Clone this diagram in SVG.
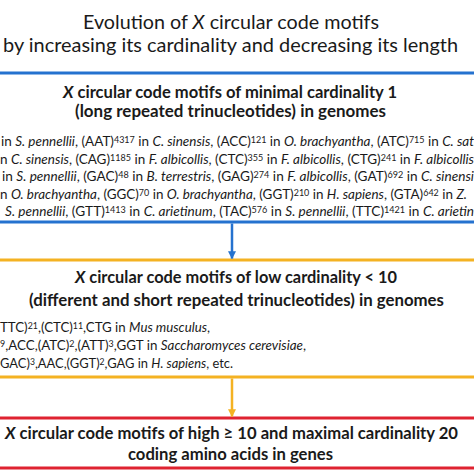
<svg xmlns="http://www.w3.org/2000/svg" width="474" height="474" viewBox="0 0 474 474">
<defs>
<style>
.t{font-family:Lato,"Open Sans","Liberation Sans",sans-serif;fill:#1a1a1a}
.h{font-size:20px}
.b{font-size:17px;font-weight:bold}
.r{font-size:13.5px}
.i{font-style:italic}
.s{font-size:9px;baseline-shift:33%}
.blue{stroke:#2572cf;stroke-width:3;fill:none}
.yel{stroke:#f4b222;stroke-width:3;fill:none}
.red{stroke:#df2331;stroke-width:3;fill:none}
</style>
<marker id="ab" viewBox="0 0 10 10" refX="9" refY="5" markerWidth="8" markerHeight="8" markerUnits="userSpaceOnUse" orient="auto"><path d="M0,0L10,5L0,10z" fill="#2572cf"/></marker>
<marker id="ay" viewBox="0 0 10 10" refX="9" refY="5" markerWidth="8" markerHeight="8" markerUnits="userSpaceOnUse" orient="auto"><path d="M0,0L10,5L0,10z" fill="#f4b222"/></marker>
</defs>
<rect width="474" height="474" fill="#ffffff"/>
<g id="title">
<text class="t h" x="231" y="29" text-anchor="middle" textLength="296" lengthAdjust="spacingAndGlyphs">Evolution of <tspan class="i">X</tspan> circular code motifs</text>
<text class="t h" x="230.5" y="52" text-anchor="middle" textLength="455" lengthAdjust="spacingAndGlyphs">by increasing its cardinality and decreasing its length</text>
</g>
<g id="box1">
<line class="blue" x1="0" y1="73" x2="474" y2="73"/>
<line class="blue" x1="0" y1="222" x2="474" y2="222"/>
<text class="t b" x="230" y="98" text-anchor="middle" textLength="334" lengthAdjust="spacingAndGlyphs"><tspan class="i">X</tspan> circular code motifs of minimal cardinality 1</text>
<text class="t b" x="230.5" y="117" text-anchor="middle" textLength="311" lengthAdjust="spacingAndGlyphs">(long repeated trinucleotides) in genomes</text>
<text class="t r" x="1" y="146" textLength="473" lengthAdjust="spacingAndGlyphs">in <tspan class="i">S. pennellii</tspan>, (AAT)<tspan class="s">4317</tspan> in <tspan class="i">C. sinensis</tspan>, (ACC)<tspan class="s">121</tspan> in <tspan class="i">O. brachyantha</tspan>, (ATC)<tspan class="s">715</tspan> in <tspan class="i">C. sat</tspan></text>
<text class="t r" x="0" y="163.5" textLength="474" lengthAdjust="spacingAndGlyphs">n <tspan class="i">C. sinensis</tspan>, (CAG)<tspan class="s">1185</tspan> in <tspan class="i">F. albicollis</tspan>, (CTC)<tspan class="s">355</tspan> in <tspan class="i">F. albicollis</tspan>, (CTG)<tspan class="s">241</tspan> in <tspan class="i">F. albicollis</tspan></text>
<text class="t r" x="2" y="181" textLength="472" lengthAdjust="spacingAndGlyphs">in <tspan class="i">S. pennellii</tspan>, (GAC)<tspan class="s">48</tspan> in <tspan class="i">B. terrestris</tspan>, (GAG)<tspan class="s">274</tspan> in <tspan class="i">F. albicollis</tspan>, (GAT)<tspan class="s">692</tspan> in <tspan class="i">C. sinensi</tspan></text>
<text class="t r" x="0" y="198.5" textLength="467" lengthAdjust="spacingAndGlyphs">n <tspan class="i">O. brachyantha</tspan>, (GGC)<tspan class="s">70</tspan> in <tspan class="i">O. brachyantha</tspan>, (GGT)<tspan class="s">210</tspan> in <tspan class="i">H. sapiens</tspan>, (GTA)<tspan class="s">642</tspan> in <tspan class="i">Z.</tspan></text>
<text class="t r" x="5" y="216" textLength="469" lengthAdjust="spacingAndGlyphs"><tspan class="i">S. pennellii</tspan>, (GTT)<tspan class="s">1413</tspan> in <tspan class="i">C. arietinum</tspan>, (TAC)<tspan class="s">576</tspan> in <tspan class="i">S. pennellii</tspan>, (TTC)<tspan class="s">1421</tspan> in <tspan class="i">C. arietin</tspan></text>
</g>
<g id="box2">
<line class="yel" x1="0" y1="260" x2="474" y2="260"/>
<line class="yel" x1="0" y1="377" x2="474" y2="377"/>
<text class="t b" x="236" y="283" text-anchor="middle" textLength="322" lengthAdjust="spacingAndGlyphs"><tspan class="i">X</tspan> circular code motifs of low cardinality &lt; 10</text>
<text class="t b" x="236.5" y="306" text-anchor="middle" textLength="415" lengthAdjust="spacingAndGlyphs">(different and short repeated trinucleotides) in genomes</text>
<text class="t r" x="0" y="332" textLength="210" lengthAdjust="spacingAndGlyphs">TTC)<tspan class="s">21</tspan>,(CTC)<tspan class="s">11</tspan>,CTG in <tspan class="i">Mus musculus</tspan>,</text>
<text class="t r" x="0" y="350" textLength="306" lengthAdjust="spacingAndGlyphs"><tspan class="s">9</tspan>,ACC,(ATC)<tspan class="s">2</tspan>,(ATT)<tspan class="s">3</tspan>,GGT in <tspan class="i">Saccharomyces cerevisiae</tspan>,</text>
<text class="t r" x="0" y="368" textLength="233" lengthAdjust="spacingAndGlyphs">GAC)<tspan class="s">3</tspan>,AAC,(GGT)<tspan class="s">2</tspan>,GAG in <tspan class="i">H. sapiens</tspan>, etc.</text>
</g>
<g id="box3">
<line class="red" x1="0" y1="418" x2="474" y2="418"/>
<line class="red" x1="0" y1="468" x2="474" y2="468"/>
<text class="t b" x="231.5" y="439" text-anchor="middle" textLength="453" lengthAdjust="spacingAndGlyphs"><tspan class="i">X</tspan> circular code motifs of high ≥ 10 and maximal cardinality 20</text>
<text class="t b" x="230.5" y="460" text-anchor="middle" textLength="205" lengthAdjust="spacingAndGlyphs">coding amino acids in genes</text>
</g>
<g id="connectors">
<line x1="232" y1="223.5" x2="232" y2="258.5" stroke="#2572cf" stroke-width="2.5" marker-end="url(#ab)"/>
<line x1="232" y1="378.5" x2="232" y2="416.5" stroke="#f4b222" stroke-width="2.5" marker-end="url(#ay)"/>
</g>
</svg>
